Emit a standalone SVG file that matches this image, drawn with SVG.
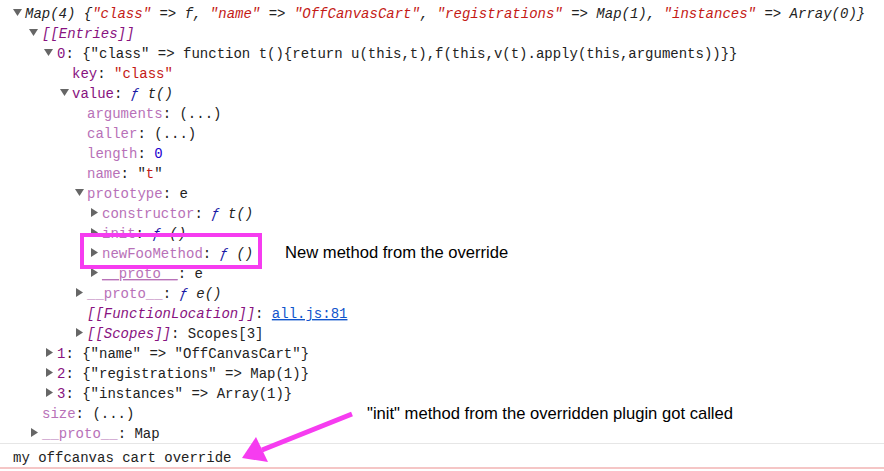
<svg xmlns="http://www.w3.org/2000/svg" width="884" height="471" viewBox="0 0 884 471">
<style>
text{font-family:"Liberation Mono",monospace;font-size:14px;fill:#222;white-space:pre}
.k{fill:#881280}.l{fill:#b871b8}.s{fill:#c41a16}.f{fill:#1a1aa6;font-style:italic}.n{fill:#1c00cf}.i{font-style:italic}
.a{font-family:"Liberation Sans",Arial,sans-serif;font-size:16.6px;fill:#000}
.t{fill:#666}
</style>
<defs>
<path id="d" d="M0,0h9l-4.5,7z" class="t"/>
<path id="r" d="M0,0v9l7,-4.5z" class="t"/>
</defs>
<rect width="884" height="471" fill="#fff"/>
<g id="tree" transform="translate(0,1)">
<use href="#d" x="13" y="8"/><text x="25" y="17"><tspan class="i">Map(4) {</tspan><tspan class="s i">"class"</tspan><tspan class="i"> =&gt; f, </tspan><tspan class="s i">"name"</tspan><tspan class="i"> =&gt; </tspan><tspan class="s i">"OffCanvasCart"</tspan><tspan class="i">, </tspan><tspan class="s i">"registrations"</tspan><tspan class="i"> =&gt; Map(1), </tspan><tspan class="s i">"instances"</tspan><tspan class="i"> =&gt; Array(0)}</tspan></text>
<use href="#d" x="29" y="28"/><text x="42" y="37" class="k i">[[Entries]]</text>
<use href="#d" x="44" y="48"/><text x="57" y="57"><tspan class="k">0</tspan>: {"class" =&gt; function t(){return u(this,t),f(this,v(t).apply(this,arguments))}}</text>
<text x="72" y="77"><tspan class="k">key</tspan>: <tspan class="s">"class"</tspan></text>
<use href="#d" x="60" y="88"/><text x="72" y="97"><tspan class="k">value</tspan>: <tspan class="f">ƒ</tspan><tspan class="i"> t()</tspan></text>
<text x="87" y="117"><tspan class="l">arguments</tspan>: (...)</text>
<text x="87" y="137"><tspan class="l">caller</tspan>: (...)</text>
<text x="87" y="157"><tspan class="l">length</tspan>: <tspan class="n">0</tspan></text>
<text x="87" y="177"><tspan class="l">name</tspan>: "<tspan class="s">t</tspan>"</text>
<use href="#d" x="75" y="188"/><text x="87" y="197"><tspan class="l">prototype</tspan>: e</text>
<use href="#r" x="91" y="207"/><text x="102" y="217"><tspan class="l">constructor</tspan>: <tspan class="f">ƒ</tspan><tspan class="i"> t()</tspan></text>
<use href="#r" x="91" y="227"/><text x="102" y="237"><tspan class="l">init</tspan>: <tspan class="f">ƒ</tspan><tspan class="i"> ()</tspan></text>
<use href="#r" x="91" y="247"/><text x="102" y="257"><tspan class="l">newFooMethod</tspan>: <tspan class="f">ƒ</tspan><tspan class="i"> ()</tspan></text>
<use href="#r" x="91" y="267"/><text x="102" y="277"><tspan class="l" text-decoration="underline">__proto__</tspan>: e</text>
<use href="#r" x="76" y="287"/><text x="87" y="297"><tspan class="l">__proto__</tspan>: <tspan class="f">ƒ</tspan><tspan class="i"> e()</tspan></text>
<text x="87" y="317"><tspan class="k i">[[FunctionLocation]]</tspan>: <tspan fill="#1155cc" text-decoration="underline">all.js:81</tspan></text>
<use href="#r" x="76" y="327"/><text x="87" y="337"><tspan class="k i">[[Scopes]]</tspan>: Scopes[3]</text>
<use href="#r" x="46" y="347"/><text x="57" y="357"><tspan class="k">1</tspan>: {"name" =&gt; "OffCanvasCart"}</text>
<use href="#r" x="46" y="367"/><text x="57" y="377"><tspan class="k">2</tspan>: {"registrations" =&gt; Map(1)}</text>
<use href="#r" x="46" y="387"/><text x="57" y="397"><tspan class="k">3</tspan>: {"instances" =&gt; Array(1)}</text>
<text x="42" y="417"><tspan class="l">size</tspan>: (...)</text>
<use href="#r" x="31" y="427"/><text x="42" y="437"><tspan class="l">__proto__</tspan>: Map</text>
<line x1="0" y1="442.5" x2="884" y2="442.5" stroke="#e6e6e6"/>
<text x="13" y="461">my offcanvas cart override</text>
<line x1="0" y1="467" x2="884" y2="467" stroke="#f5c6c6" stroke-width="2"/>
</g>
<g id="connectors">
<rect x="82" y="235" width="178" height="32" fill="none" stroke="#f63cf0" stroke-width="4"/>
<line x1="352" y1="414" x2="262" y2="450" stroke="#f63cf0" stroke-width="5"/>
<path d="M242,458 L256,437 L268,462 Z" fill="#f63cf0"/>
</g>
<g id="notes">
<text x="285" y="258" class="a">New method from the override</text>
<text x="367" y="419" class="a">"init" method from the overridden plugin got called</text>
</g>
</svg>
